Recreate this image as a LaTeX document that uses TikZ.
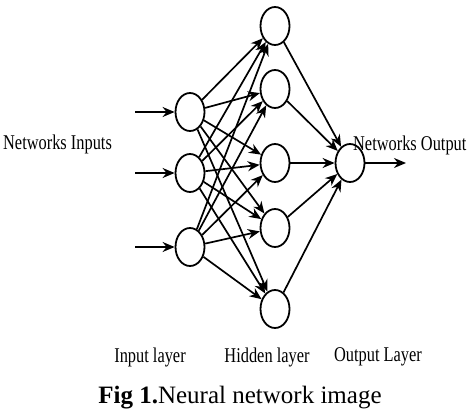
\documentclass[tikz,border=0pt]{standalone}
\usepackage{fontspec}
\setmainfont{Liberation Serif}
\usetikzlibrary{arrows,arrows.meta,shapes,positioning}
\tikzset{>=stealth}
\tikzset{neuron/.style={draw,ellipse,line width=1.8pt,minimum width=29pt,minimum height=38pt,inner sep=0pt},
  link/.style={line width=1.7pt,-{Stealth[length=12pt,width=10pt]}},
  lbl/.style={font=\fontsize{21}{23}\selectfont,inner sep=0pt,xscale=0.78}}

\begin{document}
\begin{tikzpicture}[x=1pt,y=-1pt]
          \useasboundingbox (0,0) rectangle (474,412);
          % input layer
          \node [neuron] (i1) at (190,112) {};
          \node [neuron] (i2) at (190,173) {};
          \node [neuron] (i3) at (190,247) {};
          % hidden layer
          \node [neuron] (h1) at (275,26) {};
          \node [neuron] (h2) at (275,89) {};
          \node [neuron] (h3) at (275,163) {};
          \node [neuron] (h4) at (275,228) {};
          \node [neuron] (h5) at (275,309) {};
          % output layer
          \node [neuron] (o1) at (350,163) {};
          \coordinate (x1) at (135,112);
          \coordinate (x2) at (135,173);
          \coordinate (x3) at (135,247);
          \coordinate (y1) at (406,163);
          \draw [link] (x1)--(i1);
          \draw [link] (x2)--(i2);
          \draw [link] (x3)--(i3);
          \draw [link] (i1)--(h1);
          \draw [link] (i1)--(h2);
          \draw [link] (i1)--(h3);
          \draw [link] (i1)--(h4);
          \draw [link] (i1)--(h5);
          \draw [link] (i2)--(h1);
          \draw [link] (i2)--(h2);
          \draw [link] (i2)--(h3);
          \draw [link] (i2)--(h4);
          \draw [link] (i2)--(h5);
          \draw [link] (i3)--(h1);
          \draw [link] (i3)--(h2);
          \draw [link] (i3)--(h3);
          \draw [link] (i3)--(h4);
          \draw [link] (i3)--(h5);
          \draw [link] (h1)--(o1);
          \draw [link] (h2)--(o1);
          \draw [link] (h3)--(o1);
          \draw [link] (h4)--(o1);
          \draw [link] (h5)--(o1);
          \draw [link] (o1)--(y1);
          % labels
          \node [lbl,anchor=west] (inlbl) at (3,144) {Networks Inputs};
          \node [lbl,anchor=west] (outlbl) at (353,145) {Networks Output};
          \node [lbl] (ilayer) at (150,357) {Input layer};
          \node [lbl] (hlayer) at (267,357) {Hidden layer};
          \node [lbl] (olayer) at (378,357) {Output Layer};
          \node [inner sep=0pt,font=\fontsize{25}{28}\selectfont] (caption) at (240,398) {\textbf{Fig 1.}Neural network image};
        \end{tikzpicture}
\end{document}
